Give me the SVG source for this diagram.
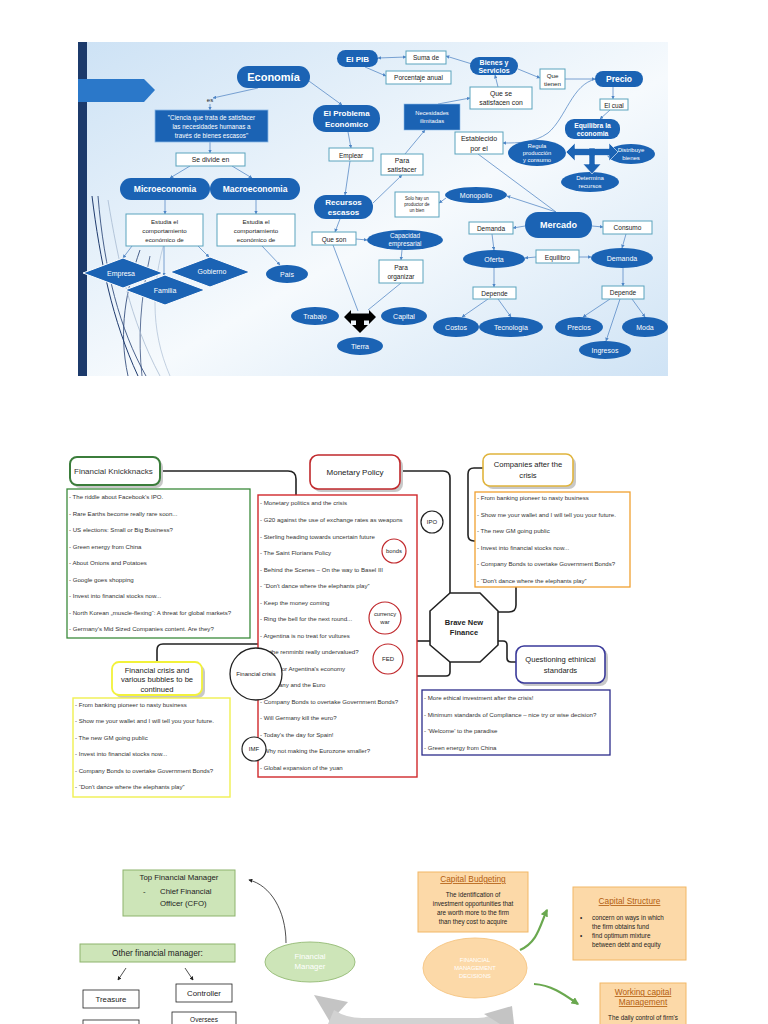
<svg xmlns="http://www.w3.org/2000/svg" width="768" height="1024" viewBox="0 0 768 1024">
<defs>
<linearGradient id="bg" x1="0" y1="0" x2="1" y2="1">
<stop offset="0" stop-color="#cde2f5"/>
<stop offset="0.55" stop-color="#f6fafd"/>
<stop offset="1" stop-color="#cfe3f5"/>
</linearGradient>
<marker id="a" viewBox="0 0 6 6" refX="5.5" refY="3" markerWidth="4.5" markerHeight="4.5" orient="auto-start-reverse"><path d="M0,0 L6,3 L0,6 z" fill="#4f86c6"/></marker>
<marker id="g" viewBox="0 0 6 6" refX="5" refY="3" markerWidth="3.5" markerHeight="3.5" orient="auto"><path d="M0,0 L6,3 L0,6 z" fill="#6aa84f"/></marker>
<marker id="k" viewBox="0 0 6 6" refX="5" refY="3" markerWidth="5" markerHeight="5" orient="auto"><path d="M0,0 L6,3 L0,6 z" fill="#222"/></marker>
</defs>
<style>
text{font-family:'Liberation Sans',Arial,sans-serif}
.pill{fill:#1b63b4}
.wb{fill:#fff;stroke:#5aa3bd;stroke-width:1}
.pt{fill:#fff;font-weight:bold;text-anchor:middle}
.et{fill:#fff;text-anchor:middle}
.bt{fill:#222;text-anchor:middle}
.c{fill:none;stroke:#5b8cc6;stroke-width:0.8}
.li{font-size:6.1px;fill:#333}
.bl{fill:none;stroke:#222;stroke-width:1.6}
.sh{fill:#c8c8c8}
.ob{fill:#fcd9a8;stroke:#f2b766;stroke-width:1}
.gb{fill:#cde5b8;stroke:#8db36d;stroke-width:1}
.kb{fill:#fff;stroke:#222;stroke-width:0.8}
</style>

<!-- ===== Diagram 1: Economía ===== -->
<g id="bg1">
<rect x="78" y="42" width="590" height="334" fill="url(#bg)"/>
<rect x="78" y="42" width="9" height="334" fill="#1c3a6b"/>
<polygon points="78,79 144,79 155,90 144,102 78,102" fill="#2b78c9"/>
<path d="M92,196 C100,260 112,320 138,376" fill="none" stroke="#1f3b6e" stroke-width="1"/>
<path d="M98,196 C104,270 120,330 146,376" fill="none" stroke="#1f3b6e" stroke-width="0.8"/>
<path d="M140,250 C126,290 118,330 128,376" fill="none" stroke="#1f3b6e" stroke-width="0.8"/>
<path d="M150,256 C140,300 138,340 142,376" fill="none" stroke="#1f3b6e" stroke-width="0.7"/>
<path d="M108,200 C118,260 130,320 160,376" fill="none" stroke="#9fb3cc" stroke-width="0.7"/>
<path d="M170,225 C150,280 150,330 170,376" fill="none" stroke="#9fb3cc" stroke-width="0.6"/>
</g>

<g id="connectors1">
<path class="c" d="M258,88 L213,98" marker-end="url(#a)"/>
<path class="c" d="M210,104 L210,110" marker-end="url(#a)"/>
<path class="c" d="M210,142 L210,153" marker-end="url(#a)"/>
<path class="c" d="M190,166 L170,178" marker-end="url(#a)"/>
<path class="c" d="M232,166 L252,178" marker-end="url(#a)"/>
<path class="c" d="M165,200 L165,214" marker-end="url(#a)"/>
<path class="c" d="M256,200 L256,214" marker-end="url(#a)"/>
<path class="c" d="M132,246 L123,258" marker-end="url(#a)"/>
<path class="c" d="M164,246 L164,276" marker-end="url(#a)"/>
<path class="c" d="M198,246 L209,257" marker-end="url(#a)"/>
<path class="c" d="M262,246 L280,265" marker-end="url(#a)"/>
<path class="c" d="M302,76 L342,105" marker-end="url(#a)"/>
<path class="c" d="M378,58 L406,57" marker-start="url(#a)" marker-end="url(#a)"/>
<path class="c" d="M365,67 L386,76" marker-end="url(#a)"/>
<path class="c" d="M472,64 L446,56" marker-end="url(#a)"/>
<path class="c" d="M518,69 L540,78" marker-end="url(#a)"/>
<path class="c" d="M565,79 L595,79" marker-end="url(#a)"/>
<path class="c" d="M498,87 L495,75" marker-end="url(#a)"/>
<path class="c" d="M438,104 L470,98" marker-end="url(#a)"/>
<path class="c" d="M613,87 L613,99" marker-end="url(#a)"/>
<path class="c" d="M610,110 L600,119" marker-end="url(#a)"/>
<path class="c" d="M596,79 C572,84 566,118 548,133 C534,143 518,143 503,143" marker-end="url(#a)"/>
<path class="c" d="M478,154 L556,212"/>
<path class="c" d="M556,212 L507,196" marker-end="url(#a)"/>
<path class="c" d="M446,198 L439,203" marker-end="url(#a)"/>
<path class="c" d="M348,132 L351,148" marker-end="url(#a)"/>
<path class="c" d="M350,161 L345,195" marker-end="url(#a)"/>
<path class="c" d="M373,203 L402,175" marker-end="url(#a)"/>
<path class="c" d="M405,154 L425,130" marker-end="url(#a)"/>
<path class="c" d="M340,219 L335,232" marker-end="url(#a)"/>
<path class="c" d="M356,239 L367,240" marker-end="url(#a)"/>
<path class="c" d="M402,250 L401,260" marker-end="url(#a)"/>
<path class="c" stroke="#555" d="M401,283 L368,310"/>
<path class="c" stroke="#555" d="M333,245 L358,311"/>
<path class="c" d="M525,226 L513,228" marker-end="url(#a)"/>
<path class="c" d="M592,226 L603,227" marker-end="url(#a)"/>
<path class="c" d="M492,234 L494,250" marker-end="url(#a)"/>
<path class="c" d="M536,257 L525,258" marker-end="url(#a)"/>
<path class="c" d="M579,257 L591,257" marker-end="url(#a)"/>
<path class="c" d="M626,234 L622,248" marker-end="url(#a)"/>
<path class="c" d="M494,268 L494,287" marker-end="url(#a)"/>
<path class="c" d="M623,268 L623,286" marker-end="url(#a)"/>
<path class="c" d="M488,299 L462,317" marker-end="url(#a)"/>
<path class="c" d="M498,299 L511,317" marker-end="url(#a)"/>
<path class="c" d="M610,299 L583,317" marker-end="url(#a)"/>
<path class="c" d="M620,299 L606,341" marker-end="url(#a)"/>
<path class="c" d="M632,299 L645,317" marker-end="url(#a)"/>
</g>

<g id="economia"><rect class="pill" x="237" y="66" width="73" height="22" rx="11"/><text class="pt" x="273.5" y="80.5" font-size="11">Economía</text></g>
<g id="es"><text class="bt" x="210" y="102" font-size="6">es</text></g>
<g id="ciencia"><rect x="155" y="110" width="113" height="32" fill="#1b63b4" stroke="#8ab8e6" stroke-width="0.8"/>
<text class="et" font-size="6.3"><tspan x="211.5" y="120">"Ciencia que trata de satisfacer</tspan><tspan x="211.5" y="129">las necesidades humanas a</tspan><tspan x="211.5" y="138">través de bienes escasos"</tspan></text></g>
<g id="sedivide"><rect class="wb" x="176" y="153" width="69" height="13"/><text class="bt" x="210.5" y="162" font-size="6.8">Se divide en</text></g>
<g id="micro"><rect class="pill" x="120" y="178" width="90" height="22" rx="11"/><text class="pt" x="165" y="192" font-size="8.5">Microeconomia</text></g>
<g id="macro"><rect class="pill" x="210" y="178" width="90" height="22" rx="11"/><text class="pt" x="255" y="192" font-size="8.5">Macroeconomia</text></g>
<g id="estudia1"><rect class="wb" x="126" y="214" width="77" height="32"/><text class="bt" font-size="6.2"><tspan x="164.5" y="224">Estudia el</tspan><tspan x="164.5" y="232.5">comportamiento</tspan><tspan x="164.5" y="241.5">económico de</tspan></text></g>
<g id="estudia2"><rect class="wb" x="217" y="214" width="78" height="32"/><text class="bt" font-size="6.2"><tspan x="256" y="224">Estudia el</tspan><tspan x="256" y="232.5">comportamiento</tspan><tspan x="256" y="241.5">económico de</tspan></text></g>
<g id="empresa"><polygon points="83,273 123,258 163,273 123,288" fill="#1b63b4" stroke="#fff" stroke-width="1"/><text class="et" x="121" y="275.5" font-size="7">Empresa</text></g>
<g id="gobierno"><polygon points="170,272 210,257 250,272 210,287" fill="#1b63b4" stroke="#fff" stroke-width="1"/><text class="et" x="212" y="274" font-size="7">Gobierno</text></g>
<g id="familia"><polygon points="125,290 165,275 205,290 165,305" fill="#1b63b4" stroke="#fff" stroke-width="1"/><text class="et" x="165" y="292.5" font-size="7">Familia</text></g>
<g id="pais"><ellipse class="pill" cx="287" cy="274" rx="21" ry="9"/><text class="et" x="287" y="276.5" font-size="7">País</text></g>

<g id="elpib"><rect class="pill" x="337" y="50" width="41" height="17" rx="8.5"/><text class="pt" x="357.5" y="61.5" font-size="8">El PIB</text></g>
<g id="sumade"><rect class="wb" x="406" y="51" width="40" height="13"/><text class="bt" x="426" y="60" font-size="6.5">Suma de</text></g>
<g id="porcentaje"><rect class="wb" x="386" y="71" width="65" height="13"/><text class="bt" x="418.5" y="80" font-size="6.5">Porcentaje anual</text></g>
<g id="bienes"><rect class="pill" x="470" y="57" width="48" height="18" rx="9"/><text class="pt" font-size="7"><tspan x="494" y="65">Bienes y</tspan><tspan x="494" y="72.5">Servicios</tspan></text></g>
<g id="quetienen"><rect class="wb" x="540" y="69" width="25" height="20"/><text class="bt" font-size="6.2"><tspan x="552.5" y="77.5">Que</tspan><tspan x="552.5" y="86">tienen</tspan></text></g>
<g id="precio"><rect class="pill" x="595" y="71" width="48" height="16" rx="8"/><text class="pt" x="619" y="82" font-size="8.5">Precio</text></g>
<g id="elcual"><rect class="wb" x="600" y="99" width="28" height="11"/><text class="bt" x="614" y="107.5" font-size="6.5">El cual</text></g>
<g id="equilibra"><rect class="pill" x="565" y="119" width="55" height="20" rx="9"/><text class="pt" font-size="6.8"><tspan x="592.5" y="127.5">Equilibra la</tspan><tspan x="592.5" y="135.5">economia</tspan></text></g>
<g id="regula"><ellipse class="pill" cx="537" cy="153" rx="29" ry="13"/><text class="et" font-size="5.8"><tspan x="537" y="148">Regula</tspan><tspan x="537" y="155">producción</tspan><tspan x="537" y="162">y consumo</tspan></text></g>
<g id="distribuye"><ellipse class="pill" cx="631" cy="154" rx="24" ry="10"/><text class="et" font-size="6"><tspan x="631" y="152">Distribuye</tspan><tspan x="631" y="159.5">bienes</tspan></text></g>
<g id="determina"><ellipse class="pill" cx="590" cy="182" rx="29" ry="10"/><text class="et" font-size="6"><tspan x="590" y="180">Determina</tspan><tspan x="590" y="187.5">recursos</tspan></text></g>
<g id="cross-blue"><path d="M566,152 L575,143 L575,148.5 L589,148.5 L589,148 L595,148 L595,148.5 L609,148.5 L609,143 L618,152 L609,161 L609,155.5 L595,155.5 L595,164 L601,164 L592,174 L583,164 L589,164 L589,155.5 L575,155.5 L575,161 Z" fill="#1b63b4" stroke="#fff" stroke-width="0.6"/></g>
<g id="quesesatisfacen"><rect class="wb" x="470" y="87" width="62" height="22"/><text class="bt" font-size="6.8"><tspan x="501" y="96">Que se</tspan><tspan x="501" y="105">satisfacen con</tspan></text></g>
<g id="establecido"><rect class="wb" x="455" y="132" width="48" height="22"/><text class="bt" font-size="7"><tspan x="479" y="141">Establecido</tspan><tspan x="479" y="150.5">por el</tspan></text></g>
<g id="necesidades"><rect x="404" y="104" width="56" height="26" fill="#1b63b4" stroke="#8ab8e6" stroke-width="0.6"/><text class="et" font-size="5.8"><tspan x="432" y="114.5">Necesidades</tspan><tspan x="432" y="123">ilimitadas</tspan></text></g>
<g id="problema"><rect class="pill" x="313" y="105" width="67" height="27" rx="13"/><text class="pt" font-size="8"><tspan x="346.5" y="116">El Problema</tspan><tspan x="346.5" y="126.5">Económico</tspan></text></g>
<g id="emplear"><rect class="wb" x="329" y="148" width="44" height="13"/><text class="bt" x="351" y="157.5" font-size="6.5">Emplear</text></g>
<g id="parasatisfacer"><rect class="wb" x="381" y="154" width="42" height="21"/><text class="bt" font-size="6.8"><tspan x="402" y="162.5">Para</tspan><tspan x="402" y="171.5">satisfacer</tspan></text></g>
<g id="recursos"><rect class="pill" x="314" y="195" width="59" height="24" rx="12"/><text class="pt" font-size="8"><tspan x="343.5" y="205">Recursos</tspan><tspan x="343.5" y="215">escasos</tspan></text></g>
<g id="solohay"><rect class="wb" x="395" y="192" width="44" height="25"/><text class="bt" font-size="4.5"><tspan x="417" y="199.5">Solo hay un</tspan><tspan x="417" y="205.5">productor de</tspan><tspan x="417" y="211.5">un bien</tspan></text></g>
<g id="monopolio"><ellipse class="pill" cx="476" cy="195" rx="31" ry="8"/><text class="et" x="476" y="197.5" font-size="7">Monopolio</text></g>
<g id="queson"><rect class="wb" x="312" y="232" width="44" height="13"/><text class="bt" x="334" y="241.5" font-size="6.5">Que son</text></g>
<g id="capacidad"><ellipse class="pill" cx="405" cy="240" rx="38" ry="10"/><text class="et" font-size="6.3"><tspan x="405" y="238">Capacidad</tspan><tspan x="405" y="246">empresarial</tspan></text></g>
<g id="paraorganizar"><rect class="wb" x="379" y="260" width="44" height="23"/><text class="bt" font-size="6.5"><tspan x="401" y="269.5">Para</tspan><tspan x="401" y="278.5">organizar</tspan></text></g>
<g id="trabajo"><ellipse class="pill" cx="315" cy="316" rx="24" ry="9"/><text class="et" x="315" y="318.5" font-size="7">Trabajo</text></g>
<g id="capital"><ellipse class="pill" cx="404" cy="316" rx="23" ry="9"/><text class="et" x="404" y="318.5" font-size="7">Capital</text></g>
<g id="tierra"><ellipse class="pill" cx="360" cy="346" rx="23" ry="9"/><text class="et" x="360" y="348.5" font-size="7">Tierra</text></g>
<g id="cross-black"><path d="M344,317 L351,310 L351,313.5 L369,313.5 L369,310 L376,317 L369,324 L369,320.5 L364,320.5 L364,325 L368,325 L360,333 L352,325 L356,325 L356,320.5 L351,320.5 L351,324 Z" fill="#000"/></g>
<g id="mercado"><rect class="pill" x="525" y="212" width="67" height="26" rx="13"/><text class="pt" x="558.5" y="228" font-size="9">Mercado</text></g>
<g id="demanda1"><rect class="wb" x="469" y="222" width="44" height="12"/><text class="bt" x="491" y="230.5" font-size="6.5">Demanda</text></g>
<g id="consumo"><rect class="wb" x="603" y="221" width="49" height="13"/><text class="bt" x="627.5" y="230" font-size="6.5">Consumo</text></g>
<g id="oferta"><ellipse class="pill" cx="494" cy="259" rx="31" ry="9"/><text class="et" x="494" y="261.5" font-size="7">Oferta</text></g>
<g id="equilibro"><rect class="wb" x="536" y="250" width="43" height="13"/><text class="bt" x="557.5" y="259.5" font-size="6.5">Equilibro</text></g>
<g id="demanda2"><ellipse class="pill" cx="622" cy="258" rx="31" ry="10"/><text class="et" x="622" y="260.5" font-size="7">Demanda</text></g>
<g id="depende1"><rect class="wb" x="473" y="287" width="43" height="12"/><text class="bt" x="494.5" y="295.5" font-size="6.5">Depende</text></g>
<g id="depende2"><rect class="wb" x="602" y="286" width="42" height="13"/><text class="bt" x="623" y="295" font-size="6.5">Depende</text></g>
<g id="costos"><ellipse class="pill" cx="456" cy="327" rx="23" ry="10"/><text class="et" x="456" y="329.5" font-size="7">Costos</text></g>
<g id="tecnologia"><ellipse class="pill" cx="511" cy="327" rx="32" ry="10"/><text class="et" x="511" y="329.5" font-size="7">Tecnología</text></g>
<g id="precios"><ellipse class="pill" cx="579" cy="327" rx="24" ry="10"/><text class="et" x="579" y="329.5" font-size="7">Precios</text></g>
<g id="moda"><ellipse class="pill" cx="645" cy="327" rx="23" ry="10"/><text class="et" x="645" y="329.5" font-size="7">Moda</text></g>
<g id="ingresos"><ellipse class="pill" cx="605" cy="350" rx="26" ry="9"/><text class="et" x="605" y="352.5" font-size="7">Ingresos</text></g>

<!-- ===== Diagram 2: Finance mind map ===== -->
<g id="connectors2">
<path class="bl" d="M160,471 L288,471 Q296,471 296,479 L296,495"/>
<path class="bl" d="M400,471 L443,471 Q450,471 450,478 L450,593"/>
<path class="bl" d="M483,468 L474,468 Q468,468 468,474 L468,535 Q468,541 474,541 L476,541"/>
<path class="bl" d="M516,587 L516,605 Q516,612 509,612 L498,612"/>
<path class="bl" d="M498,641 L503,641 Q507,641 507,645 L507,658 Q507,662 511,662 L516,662"/>
<path class="bl" d="M430,641 L417,641"/>
<path class="bl" d="M450,662 L450,672 Q450,676 446,676 L417,676"/>
<path class="bl" d="M258,644 L163,644 Q157,644 157,650 L157,662"/>
</g>

<g id="knickknacks">
<rect class="sh" x="73" y="460" width="90" height="28" rx="7"/>
<rect x="70" y="457" width="90" height="28" rx="7" fill="#fff" stroke="#3b7d3b" stroke-width="2"/>
<text x="74" y="474" font-size="8" fill="#333">Financial Knickknacks</text>
</g>
<g id="knick-list">
<rect x="67" y="489" width="183" height="149" fill="#fff" stroke="#3b8a3b" stroke-width="1.3"/>
<text class="li"><tspan x="69" y="499">- The riddle about Facebook's IPO.</tspan><tspan x="69" y="515.5">- Rare Earths become really rare soon...</tspan><tspan x="69" y="532">- US elections: Small or Big Business?</tspan><tspan x="69" y="548.5">- Green energy from China</tspan><tspan x="69" y="565">- About Onions and Potatoes</tspan><tspan x="69" y="581.5">- Google goes shopping</tspan><tspan x="69" y="598">- Invest into financial stocks now...</tspan><tspan x="69" y="614.5">- North Korean „muscle-flexing“: A threat for global markets?</tspan><tspan x="69" y="631">- Germany's Mid Sized Companies content. Are they?</tspan></text>
</g>

<g id="monetary">
<rect class="sh" x="313" y="458" width="90" height="34" rx="8"/>
<rect x="310" y="455" width="90" height="34" rx="8" fill="#fff" stroke="#c0282c" stroke-width="1.6"/>
<text class="bt" x="355" y="474.5" font-size="8" fill="#444">Monetary Policy</text>
</g>
<g id="monetary-list">
<rect x="258" y="495" width="159" height="282" fill="#fff" stroke="#d0282c" stroke-width="1.4"/>
<text class="li"><tspan x="260" y="505">- Monetary politics and the crisis</tspan><tspan x="260" y="522">- G20 against the use of exchange rates as weapons</tspan><tspan x="260" y="538.5">- Sterling heading towards uncertain future</tspan><tspan x="260" y="555">- The Saint Florians Policy</tspan><tspan x="260" y="571.5">- Behind the Scenes – On the way to Basel III</tspan><tspan x="260" y="588">- “Don't dance where the elephants play”</tspan><tspan x="260" y="604.5">- Keep the money coming</tspan><tspan x="260" y="621">- Ring the bell for the next round...</tspan><tspan x="260" y="637.5">- Argentina is no treat for vultures</tspan><tspan x="260" y="654">- Is the renminbi really undervalued?</tspan><tspan x="260" y="670.5">- Hope for Argentina's economy</tspan><tspan x="260" y="687">- Germany and the Euro</tspan><tspan x="260" y="703.5">- Company Bonds to overtake Government Bonds?</tspan><tspan x="260" y="720">- Will Germany kill the euro?</tspan><tspan x="260" y="736.5">- Today's the day for Spain!</tspan><tspan x="260" y="753">- Why not making the Eurozone smaller?</tspan><tspan x="260" y="769.5">- Global expansion of the yuan</tspan></text>
</g>
<g id="bonds"><circle cx="394" cy="551" r="12" fill="#fff" stroke="#c0282c" stroke-width="1.2"/><text class="bt" x="394" y="553" font-size="5.8">bonds</text></g>
<g id="currency"><circle cx="385" cy="618" r="16" fill="#fff" stroke="#c0282c" stroke-width="1.2"/><text class="bt" font-size="5.8"><tspan x="385" y="616">currency</tspan><tspan x="385" y="623.5">war</tspan></text></g>
<g id="fed"><circle cx="388" cy="659" r="15" fill="#fff" stroke="#c0282c" stroke-width="1.2"/><text class="bt" x="388" y="661" font-size="6">FED</text></g>
<g id="fincrisis"><circle cx="256" cy="674" r="26" fill="#fff" stroke="#222" stroke-width="1.3"/><text class="bt" x="256" y="676" font-size="6">Financial crisis</text></g>
<g id="imf"><circle cx="254" cy="749" r="12" fill="#fff" stroke="#222" stroke-width="1.2"/><text class="bt" x="254" y="751" font-size="6">IMF</text></g>
<g id="ipo"><circle cx="432" cy="522" r="11" fill="#fff" stroke="#222" stroke-width="1.2"/><text class="bt" x="432" y="524" font-size="6">IPO</text></g>

<g id="companies">
<rect class="sh" x="486" y="457" width="90" height="32" rx="7"/>
<rect x="483" y="454" width="90" height="32" rx="7" fill="#fff" stroke="#e0b43c" stroke-width="1.6"/>
<text class="bt" font-size="7.6" fill="#444"><tspan x="528" y="467">Companies after the</tspan><tspan x="528" y="478">crisis</tspan></text>
</g>
<g id="companies-list">
<rect x="475" y="492" width="155" height="95" fill="#fff" stroke="#f0a030" stroke-width="1.3"/>
<text class="li" font-size="5.8"><tspan x="477" y="500">- From banking pioneer to nasty business</tspan><tspan x="477" y="516.5">- Show me your wallet and I will tell you your future.</tspan><tspan x="477" y="533">- The new GM going public</tspan><tspan x="477" y="549.5">- Invest into financial stocks now...</tspan><tspan x="477" y="566">- Company Bonds to overtake Government Bonds?</tspan><tspan x="477" y="582.5">- “Don't dance where the elephants play”</tspan></text>
</g>

<g id="bravenew">
<polygon points="450,593 480,593 498,611 498,645 480,662 450,662 430,645 430,611" fill="#fff" stroke="#222" stroke-width="1.6"/>
<text class="bt" font-size="7.5" font-weight="bold" fill="#333"><tspan x="464" y="625">Brave New</tspan><tspan x="464" y="635">Finance</tspan></text>
</g>

<g id="questioning">
<rect class="sh" x="519" y="649" width="89" height="37" rx="8"/>
<rect x="516" y="646" width="89" height="37" rx="8" fill="#fff" stroke="#3a3a9a" stroke-width="1.6"/>
<text class="bt" font-size="7.6" fill="#444"><tspan x="560.5" y="662">Questioning ethinical</tspan><tspan x="560.5" y="673">standards</tspan></text>
</g>
<g id="questioning-list">
<rect x="422" y="690" width="188" height="65" fill="#fff" stroke="#2b2b8a" stroke-width="1.3"/>
<text class="li" font-size="5.8"><tspan x="424" y="700">- More ethical investment after the crisis!</tspan><tspan x="424" y="716.5">- Minimum standards of Compliance – nice try or wise decision?</tspan><tspan x="424" y="733">- 'Welcome' to the paradise</tspan><tspan x="424" y="749.5">- Green energy from China</tspan></text>
</g>

<g id="crisisbubbles">
<rect class="sh" x="115" y="665" width="90" height="33" rx="7"/>
<rect x="112" y="662" width="90" height="33" rx="7" fill="#fff" stroke="#f2f23a" stroke-width="1.8"/>
<text class="bt" font-size="7.6" fill="#333"><tspan x="157" y="673">Financial crisis and</tspan><tspan x="157" y="682">various bubbles to be</tspan><tspan x="157" y="691.5">continued</tspan></text>
</g>
<g id="crisis-list">
<rect x="73" y="698" width="157" height="99" fill="#fff" stroke="#f0f050" stroke-width="1.4"/>
<text class="li" font-size="5.8"><tspan x="75" y="707">- From banking pioneer to nasty business</tspan><tspan x="75" y="723">- Show me your wallet and I will tell you your future.</tspan><tspan x="75" y="739.5">- The new GM going public</tspan><tspan x="75" y="756">- Invest into financial stocks now...</tspan><tspan x="75" y="772.5">- Company Bonds to overtake Government Bonds?</tspan><tspan x="75" y="789">- “Don't dance where the elephants play”</tspan></text>
</g>

<!-- ===== Diagram 3: Financial manager ===== -->
<g id="connectors3">
<path d="M286,943 C286,910 270,885 249,880" fill="none" stroke="#222" stroke-width="0.8" marker-end="url(#k)"/>
<path d="M126,968 L118,980" fill="none" stroke="#222" stroke-width="0.8" marker-end="url(#k)"/>
<path d="M185,968 L193,980" fill="none" stroke="#222" stroke-width="0.8" marker-end="url(#k)"/>
<path d="M520,950 C538,942 540,925 547,910" fill="none" stroke="#6aa84f" stroke-width="2.2" marker-end="url(#g)"/>
<path d="M534,984 C552,985 565,995 578,1004" fill="none" stroke="#6aa84f" stroke-width="2.2" marker-end="url(#g)"/>
</g>
<g id="bigarrow">
<polygon points="314,995 348,1002 330,1022" fill="#c4c4c4"/>
<path d="M334,1010 Q346,1018 362,1018 L478,1018 Q490,1018 497,1011 L508,1024 L328,1024 Z" fill="#d2d2d2"/>
<polygon points="512,1006 484,1014 500,1024 514,1024" fill="#c4c4c4"/>
</g>
<g id="topfm">
<rect class="gb" x="123" y="870" width="112" height="46"/>
<text font-size="7.8" fill="#222" x="179" y="880" text-anchor="middle">Top Financial Manager</text>
<text font-size="7.8" fill="#222"><tspan x="143" y="894">-</tspan><tspan x="160" y="894">Chief Financial</tspan><tspan x="160" y="906">Officer (CFO)</tspan></text>
</g>
<g id="otherfm"><rect class="gb" x="80" y="944" width="155" height="18"/><text font-size="8.3" fill="#222" x="157.5" y="956" text-anchor="middle">Other financial manager:</text></g>
<g id="treasure"><rect class="kb" x="83" y="990" width="56" height="18"/><text class="bt" x="111" y="1002" font-size="7.8">Treasure</text></g>
<g id="treasure-sub"><rect class="kb" x="83" y="1020" width="56" height="12"/></g>
<g id="controller"><rect class="kb" x="176" y="984" width="56" height="18"/><text class="bt" x="204" y="996" font-size="7.8">Controller</text></g>
<g id="oversees"><rect class="kb" x="172" y="1012" width="64" height="16"/><text class="bt" x="204" y="1022" font-size="6.5">Oversees</text></g>
<g id="finmanager"><ellipse cx="310" cy="962" rx="45" ry="20" fill="#cde5b8" stroke="#9cc07e" stroke-width="1"/><text font-size="7.8" fill="#fff" text-anchor="middle"><tspan x="310" y="959">Financial</tspan><tspan x="310" y="969">Manager</tspan></text></g>
<g id="capbudget">
<rect class="ob" x="418" y="872" width="110" height="60"/>
<text font-size="8.3" fill="#b25d10" x="473" y="882" text-anchor="middle" text-decoration="underline">Capital Budgeting</text>
<text font-size="6.3" fill="#222" text-anchor="middle"><tspan x="473" y="897">The identification of</tspan><tspan x="473" y="906">investment opportunities that</tspan><tspan x="473" y="915">are worth more to the firm</tspan><tspan x="473" y="924">than they cost to acquire</tspan></text>
</g>
<g id="fmdecisions"><ellipse cx="475" cy="968" rx="52" ry="30" fill="#fcd9a8" stroke="#f7c98a" stroke-width="1"/><text font-size="5.8" fill="#fff" text-anchor="middle"><tspan x="475" y="962">FINANCIAL</tspan><tspan x="475" y="970">MANAGEMENT</tspan><tspan x="475" y="978">DECISIONS</tspan></text></g>
<g id="capstructure">
<rect class="ob" x="573" y="887" width="113" height="73"/>
<text font-size="8.3" fill="#b25d10" x="629.5" y="904" text-anchor="middle" text-decoration="underline">Capital Structure</text>
<text font-size="6.3" fill="#222"><tspan x="580" y="920">•</tspan><tspan x="592" y="920">concern on ways in which</tspan><tspan x="592" y="929">the firm obtains fund</tspan><tspan x="580" y="938">•</tspan><tspan x="592" y="938">find optimum mixture</tspan><tspan x="592" y="947">between debt and equity</tspan></text>
</g>
<g id="workingcap">
<rect class="ob" x="600" y="983" width="86" height="45"/>
<text font-size="8.3" fill="#b25d10" text-anchor="middle" text-decoration="underline"><tspan x="643" y="995">Working capital</tspan><tspan x="643" y="1005">Management</tspan></text>
<text font-size="6.3" fill="#222" x="643" y="1020" text-anchor="middle">The daily control of firm's</text>
</g>
</svg>
